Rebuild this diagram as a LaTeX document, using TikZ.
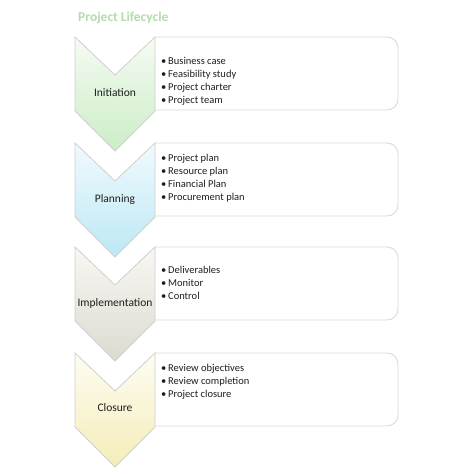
\documentclass[tikz,border=0pt]{standalone}
\usepackage{fontspec}
\setmainfont{Carlito}
\definecolor{chevline}{HTML}{CFCFCF}
\definecolor{rectline}{HTML}{D8DCD6}
\definecolor{txt}{HTML}{1E1E1E}
\definecolor{titlecol}{HTML}{B3DDAB}
\definecolor{gA}{HTML}{F5FBF3}\definecolor{gB}{HTML}{CBEDC6}
\definecolor{bA}{HTML}{F0FAFD}\definecolor{bB}{HTML}{BCE8F5}
\definecolor{nA}{HTML}{F8F7F3}\definecolor{nB}{HTML}{DDDAD0}
\definecolor{yA}{HTML}{FDFCF2}\definecolor{yB}{HTML}{F5EDB8}
\newcommand\chevshape[3]{%
  \shade[top color=#2,bottom color=#3,draw=chevline,line width=0.8pt,line join=miter]
    (75,#1) -- (115,#1+38) -- (155,#1) -- (155,#1+74) -- (115,#1+114) -- (75,#1+74) -- cycle;}
\newcommand\boxshape[1]{%
  \draw[rectline,line width=0.9pt,rounded corners=11pt,fill=white]
    (155,#1) -- (398,#1) -- (398,#1+73) -- (155,#1+73);}
\begin{document}
\begin{tikzpicture}[x=1pt,y=-1pt,
  lbl/.style={font=\fontsize{11.5}{13}\selectfont,text=txt,inner sep=0},
  blist/.style={font=\fontsize{10.5}{13}\selectfont,text=txt,inner sep=0,align=left,anchor=north west},
  ttl/.style={font=\fontsize{13.5}{15}\selectfont\bfseries,text=titlecol,inner sep=0,anchor=west}]
\useasboundingbox (0,0) rectangle (474,474);
\fill[white] (0,0) rectangle (474,474);
\node[ttl] (title) at (78,18) {Project Lifecycle};
% boxes
\boxshape{37}
\boxshape{143}
\boxshape{247}
\boxshape{353}
% chevrons
\chevshape{353}{yA}{yB}
\chevshape{247}{nA}{nB}
\chevshape{143}{bA}{bB}
\chevshape{37}{gA}{gB}
% labels
\node[lbl] (l1) at (115,93) {Initiation};
\node[lbl] (l2) at (115,199) {Planning};
\node[lbl] (l3) at (115,303) {Implementation};
\node[lbl] (l4) at (115,408) {Closure};
% lists
\node[blist] (b1) at (161,57) {•\,Business case\\•\,Feasibility study\\•\,Project charter\\•\,Project team};
\node[blist] (b2) at (161,154) {•\,Project plan\\•\,Resource plan\\•\,Financial Plan\\•\,Procurement plan};
\node[blist] (b3) at (161,266) {•\,Deliverables\\•\,Monitor\\•\,Control};
\node[blist] (b4) at (161,364) {•\,Review objectives\\•\,Review completion\\•\,Project closure};
\end{tikzpicture}
\end{document}
